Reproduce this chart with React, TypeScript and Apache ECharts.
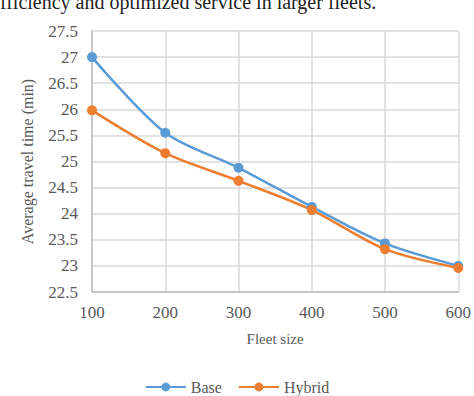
import React, { useEffect, useRef } from "react";
import * as echarts from "echarts";

const fleetSizes = ["100", "200", "300", "400", "500", "600"];
const baseValues = [27.0, 25.55, 24.88, 24.13, 23.43, 23.0];
const hybridValues = [25.98, 25.16, 24.63, 24.07, 23.32, 22.96];
const yMin = 22.5;
const yMax = 27.5;
const yStep = 0.5;

const FONT = "'Liberation Serif', 'Times New Roman', serif";

export default function App() {
  const ref = useRef<HTMLDivElement>(null);
  useEffect(() => {
    if (!ref.current) return;
    const chart = echarts.init(ref.current, undefined, { renderer: "svg" });
    chart.setOption({
      animation: false,
      backgroundColor: "#ffffff",
      graphic: [
        {
          type: "text",
          left: -9,
          top: -8,
          style: {
            text: "efficiency and optimized service in larger fleets.",
            font: `20px ${FONT}`,
            fill: "#222222",
          },
        },
      ],
      grid: { left: 92, right: 13, top: 31, bottom: 104 },
      legend: {
        top: 379,
        left: "center",
        padding: 0,
        itemWidth: 40,
        itemHeight: 11,
        itemGap: 16,
        textStyle: { fontFamily: FONT, fontSize: 16, color: "#595959" },
        data: ["Base", "Hybrid"],
      },
      xAxis: {
        type: "category",
        data: fleetSizes,
        boundaryGap: false,
        name: "Fleet size",
        nameLocation: "middle",
        nameGap: 39,
        nameTextStyle: { fontFamily: FONT, fontSize: 15, color: "#595959" },
        axisLine: { lineStyle: { color: "#bfbfbf", width: 1.5 } },
        axisTick: { show: false },
        axisLabel: { fontFamily: FONT, fontSize: 17, color: "#595959", margin: 12 },
        splitLine: { show: true, lineStyle: { color: "#d9d9d9", width: 1.5 } },
      },
      yAxis: {
        type: "value",
        min: yMin,
        max: yMax,
        interval: yStep,
        name: "Average travel time (min)",
        nameLocation: "middle",
        nameGap: 57,
        nameRotate: 90,
        nameTextStyle: { fontFamily: FONT, fontSize: 16, color: "#595959" },
        axisLine: { show: true, lineStyle: { color: "#bfbfbf", width: 1.5 } },
        axisTick: { show: false },
        axisLabel: { fontFamily: FONT, fontSize: 17, color: "#595959", margin: 14 },
        splitLine: { show: true, lineStyle: { color: "#d9d9d9", width: 1.5 } },
      },
      series: [
        {
          name: "Base",
          type: "line",
          data: baseValues,
          smooth: 0.3,
          symbol: "circle",
          symbolSize: 10,
          itemStyle: { color: "#5B9BD5" },
          lineStyle: { color: "#5B9BD5", width: 2.5 },
        },
        {
          name: "Hybrid",
          type: "line",
          data: hybridValues,
          smooth: 0.3,
          symbol: "circle",
          symbolSize: 10,
          itemStyle: { color: "#ED7D31" },
          lineStyle: { color: "#ED7D31", width: 2.5 },
        },
      ],
    });
    return () => chart.dispose();
  }, []);
  return (
    <div
      ref={ref}
      style={{ position: "absolute", left: 0, top: 0, width: 474, height: 396 }}
    />
  );
}
